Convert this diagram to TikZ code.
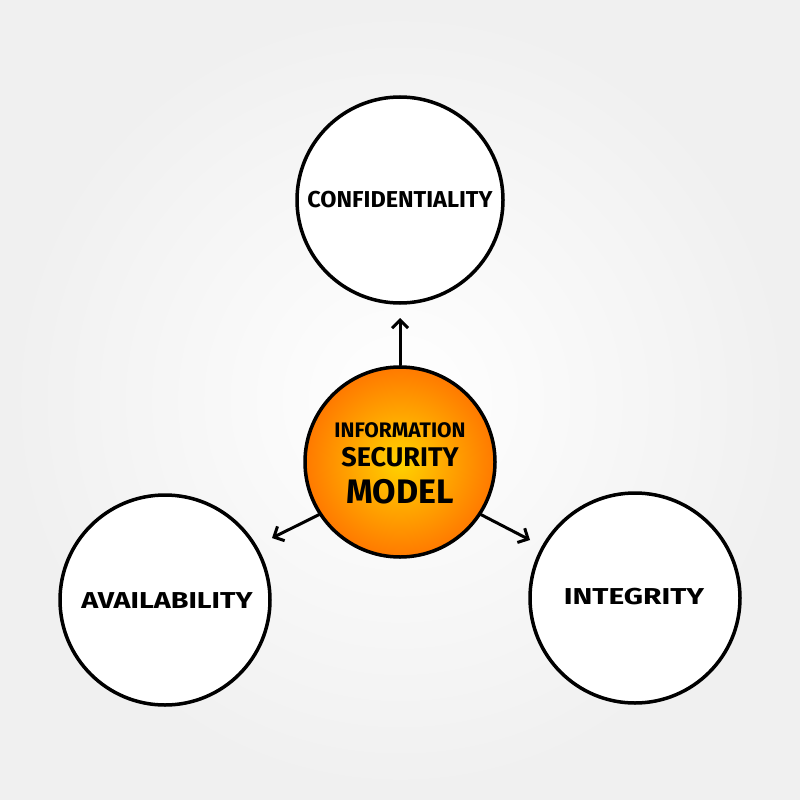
\documentclass[tikz,border=0pt]{standalone}
\usepackage{fontspec}
\setmainfont{Fira Sans}
\usetikzlibrary{arrows.meta,shadings}
\begin{document}
\begin{tikzpicture}[x=1pt,y=-1pt,
  circ/.style={circle,draw=black,line width=3.5pt,fill=white},
  lbl/.style={font=\fontsize{23}{26}\selectfont\bfseries},
  arr/.style={line width=3pt,-{Straight Barb[length=8pt,width=16pt]},line cap=round}]
\shade[inner color=white,outer color=black!6] (0,0) rectangle (800,800);
\useasboundingbox (0,0) rectangle (800,800);
\node[circ,minimum size=206pt] (top) at (400,200) {};
\node[lbl,xscale=1.02] (tt) at (top) {CONFIDENTIALITY};
\node[circ,minimum size=210pt] (left) at (165,600) {};
\node[lbl,xscale=1.25] (lt) at (167,601) {AVAILABILITY};
\node[circ,minimum size=210pt] (right) at (635,598) {};
\node[lbl,xscale=1.3] (rt) at (634,597) {INTEGRITY};
\node[circle,draw=black,line width=3.5pt,minimum size=190pt,inner color=yellow!65!orange,outer color=orange!95!red] (mid) at (400,462) {};
\node[font=\fontsize{21}{24}\selectfont\bfseries] (m1) at (400,430) {INFORMATION};
\node[font=\fontsize{27}{30}\selectfont\bfseries] (m2) at (400,457) {SECURITY};
\node[font=\fontsize{34}{36}\selectfont\bfseries] (m3) at (400,492) {MODEL};
\coordinate (ta) at (400,318);
\coordinate (la) at (272,538);
\coordinate (ra) at (530,540);
\draw[arr] (mid.north) -- (ta);
\draw[arr] (mid.-147) -- (la);
\draw[arr] (mid.-33) -- (ra);
\end{tikzpicture}
\end{document}
